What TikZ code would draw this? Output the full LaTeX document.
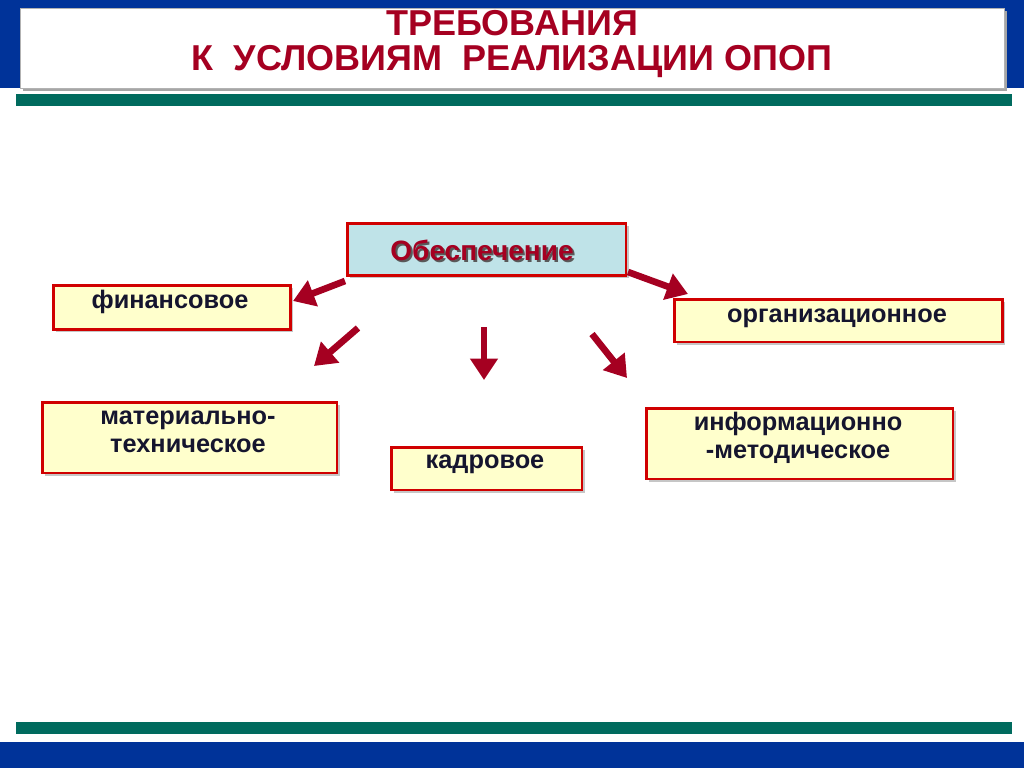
\documentclass[tikz,border=0pt]{standalone}
\usepackage{fontspec}
\setmainfont{Liberation Sans}
\usetikzlibrary{arrows.meta}
\definecolor{bandblue}{HTML}{003399}
\definecolor{teal}{HTML}{006B5E}
\definecolor{dred}{HTML}{A50021}
\definecolor{bred}{HTML}{D00000}
\definecolor{byel}{HTML}{FFFFCC}
\definecolor{bblue}{HTML}{BFE3E8}
\definecolor{txt}{HTML}{15152E}
\begin{document}
\begin{tikzpicture}[x=0.75pt,y=-0.75pt,
  box/.style={draw=bred,line width=2pt,fill=byel,align=center,inner sep=0pt,
    font=\bfseries\fontsize{19}{20}\selectfont,text=txt},
  arr/.style={draw=dred,line width=5pt,-{Triangle[length=16pt,width=20pt]}}]
\useasboundingbox (0,0) rectangle (1024,768);
\fill[bandblue] (0,0) rectangle (1024,88);
\fill[gray!70] (23,11) rectangle (1007,91);
\fill[white] (20,8) rectangle (1004,88);
\draw[gray!60,line width=0.7pt] (20,8) rectangle (1004,88);
\fill[teal] (16,94) rectangle (1012,106);
\fill[teal] (16,722) rectangle (1012,734);
\fill[bandblue] (0,742) rectangle (1024,768);
\node[font=\bfseries\fontsize{27}{26}\selectfont,text=dred,align=center] (title) at (512,44) {ТРЕБОВАНИЯ\\К\ \ УСЛОВИЯМ\ \ РЕАЛИЗАЦИИ ОПОП};
% shadows
\foreach \a/\b/\c/\d in {346/222/625/274,52/284/289/328,673/298/1001/341,41/401/336/472,390/446/581/489,645/407/952/478}
  \fill[gray!45] (\a+4,\b+4) rectangle (\c+4,\d+4);
\node[box,fill=bblue,minimum width=209pt,minimum height=39pt,anchor=north west] (ob) at (346,222) {};
\node[font=\bfseries\fontsize{21}{22}\selectfont,text=gray!70!black] at (ob.center) [xshift=-2pt,yshift=-2.5pt] {Обеспечение};
\node[font=\bfseries\fontsize{21}{22}\selectfont,text=dred] (obt) at (ob.center) [xshift=-3.5pt,yshift=-1pt] {Обеспечение};
\node[box,minimum width=178pt,minimum height=33pt,anchor=north west] (fin) at (52,284) {};
\node[font=\bfseries\fontsize{19}{20}\selectfont,text=txt] at (170,302) {финансовое};
\node[box,minimum width=246pt,minimum height=32pt,anchor=north west] (org) at (673,298) {};
\node[font=\bfseries\fontsize{19}{20}\selectfont,text=txt] at (837,318) {организационное};
\node[box,minimum width=221pt,minimum height=53pt,anchor=north west] (mat) at (41,401) {};
\node[font=\bfseries\fontsize{19}{21}\selectfont,text=txt,align=center] at (188,432) {материально-\\техническое};
\node[box,minimum width=143pt,minimum height=32pt,anchor=north west] (kad) at (390,446) {};
\node[font=\bfseries\fontsize{19}{20}\selectfont,text=txt] at (485,464) {кадровое};
\node[box,minimum width=230pt,minimum height=53pt,anchor=north west] (inf) at (645,407) {};
\node[font=\bfseries\fontsize{19}{21}\selectfont,text=txt,align=center] at (798,438) {информационно\\-методическое};
% arrows
\coordinate (a1s) at (345,281); \coordinate (a1e) at (293,301);
\coordinate (a2s) at (628,272); \coordinate (a2e) at (688,294);
\coordinate (a3s) at (358,328); \coordinate (a3e) at (314,366);
\coordinate (a4s) at (484,327); \coordinate (a4e) at (484,380);
\coordinate (a5s) at (592,334); \coordinate (a5e) at (627,378);
\draw[arr] (a1s) -- (a1e);
\draw[arr] (a2s) -- (a2e);
\draw[arr] (a3s) -- (a3e);
\draw[arr] (a4s) -- (a4e);
\draw[arr] (a5s) -- (a5e);
\end{tikzpicture}
\end{document}
